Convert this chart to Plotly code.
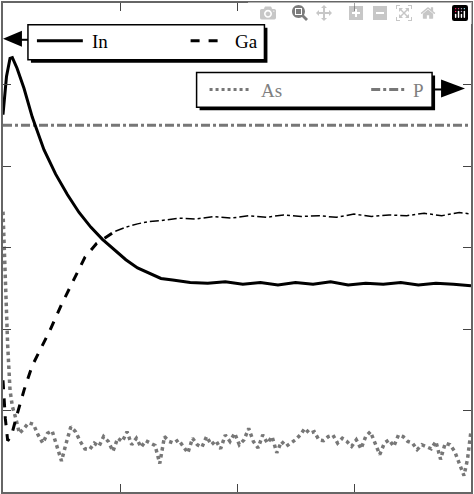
import plotly.graph_objects as go

# data (x in arbitrary time units 0..400, y 0..6)
in_x = [0, 3, 6, 8, 12, 18, 25, 35, 45, 55, 65, 75, 85, 95, 105, 115, 125, 135, 145, 160, 175, 190, 205, 220, 235, 250, 265, 280, 295, 310, 325, 340, 355, 370, 385, 400]
in_y = [4.63, 5.1, 5.32, 5.33, 5.2, 4.95, 4.6, 4.2, 3.9, 3.65, 3.43, 3.25, 3.1, 2.97, 2.85, 2.75, 2.68, 2.62, 2.6, 2.57, 2.56, 2.58, 2.55, 2.57, 2.54, 2.57, 2.55, 2.58, 2.54, 2.56, 2.55, 2.57, 2.54, 2.56, 2.55, 2.53]
ga1_x = [0, 2, 4, 7, 12, 18, 25, 32, 40, 50, 60, 70, 80, 90, 96]
ga1_y = [1.37, 0.9, 0.63, 0.68, 0.95, 1.25, 1.55, 1.75, 1.98, 2.3, 2.6, 2.88, 3.05, 3.15, 3.2]
ga2_x = [96, 105, 115, 125, 135, 150, 165, 180, 195, 210, 225, 240, 255, 270, 285, 300, 315, 330, 345, 360, 375, 390, 400]
ga2_y = [3.2, 3.25, 3.29, 3.32, 3.33, 3.36, 3.35, 3.38, 3.36, 3.39, 3.37, 3.40, 3.38, 3.39, 3.37, 3.41, 3.38, 3.40, 3.39, 3.42, 3.39, 3.43, 3.41]
as_x = [0, 2, 4, 6, 8, 11, 14, 18, 22, 26, 30, 34, 38, 42, 46, 50, 54, 58, 62, 66, 70, 74, 78, 82, 86, 90, 94, 98, 102, 106, 110, 114, 118, 122, 126, 130, 134, 138, 142, 146, 150, 154, 158, 162, 166, 170, 174, 178, 182, 186, 190, 194, 198, 202, 206, 210, 214, 218, 222, 226, 230, 234, 238, 242, 246, 250, 254, 258, 262, 266, 270, 274, 278, 282, 286, 290, 294, 298, 302, 306, 310, 314, 318, 322, 326, 330, 334, 338, 342, 346, 350, 354, 358, 362, 366, 370, 374, 378, 382, 386, 390, 394, 397, 400]
as_y = [3.44, 2.6, 1.8, 1.25, 1.05, 0.9, 0.72, 0.78, 0.85, 0.83, 0.7, 0.6, 0.72, 0.75, 0.55, 0.38, 0.6, 0.8, 0.74, 0.62, 0.53, 0.52, 0.6, 0.56, 0.68, 0.62, 0.5, 0.66, 0.62, 0.74, 0.58, 0.66, 0.55, 0.63, 0.6, 0.57, 0.35, 0.68, 0.62, 0.6, 0.64, 0.56, 0.48, 0.66, 0.58, 0.55, 0.68, 0.58, 0.63, 0.53, 0.7, 0.62, 0.72, 0.58, 0.64, 0.78, 0.62, 0.54, 0.7, 0.6, 0.68, 0.48, 0.62, 0.56, 0.6, 0.64, 0.7, 0.78, 0.72, 0.74, 0.64, 0.63, 0.68, 0.7, 0.6, 0.66, 0.62, 0.56, 0.64, 0.53, 0.68, 0.74, 0.6, 0.46, 0.6, 0.64, 0.56, 0.7, 0.68, 0.62, 0.6, 0.52, 0.58, 0.56, 0.53, 0.62, 0.4, 0.6, 0.58, 0.5, 0.36, 0.2, 0.4, 0.75]
p_x = [0, 400]
p_y = [4.5, 4.5]

def X(px): return (px - 3) * 400 / 469
def Y(py): return (492 - py) / 82

fig = go.Figure()
fig.add_trace(go.Scatter(x=as_x, y=as_y, mode='lines', line=dict(color='#777777', width=3.5, dash='dot')))
fig.add_trace(go.Scatter(x=p_x, y=p_y, mode='lines', line=dict(color='#777777', width=3, dash='dashdot')))
fig.add_trace(go.Scatter(x=ga1_x, y=ga1_y, mode='lines', line=dict(color='black', width=3, dash='dash')))
fig.add_trace(go.Scatter(x=ga2_x, y=ga2_y, mode='lines', line=dict(color='black', width=1.5, dash='dashdot')))
fig.add_trace(go.Scatter(x=in_x, y=in_y, mode='lines', line=dict(color='black', width=3)))

shapes = []
def box(x0, y0, x1, y1):
    shapes.append(dict(type='rect', x0=X(x0+3), x1=X(x1+3), y0=Y(y0+3), y1=Y(y1+3), fillcolor='black', line=dict(width=0)))
    shapes.append(dict(type='rect', x0=X(x0), x1=X(x1), y0=Y(y0), y1=Y(y1), fillcolor='white', line=dict(color='black', width=1.5)))
box(28, 22, 265, 57)
box(197, 70, 433, 105)
def seg(x0, x1, py, color, width, dash):
    shapes.append(dict(type='line', x0=X(x0), x1=X(x1), y0=Y(py), y1=Y(py), line=dict(color=color, width=width, dash=dash)))
seg(37, 83, 38, 'black', 3, 'solid')
seg(191, 225, 38, 'black', 3, 'dash')
seg(210, 252, 87, '#777777', 3, 'dot')
seg(372, 406, 87, '#777777', 3, 'dashdot')
# arrows
shapes.append(dict(type='line', x0=X(28), x1=X(18), y0=Y(37), y1=Y(37), line=dict(color='black', width=2)))
shapes.append(dict(type='path', path=f'M {X(22)},{Y(28)} L {X(3)},{Y(36)} L {X(22)},{Y(44)} Z', fillcolor='black', line=dict(width=0)))
shapes.append(dict(type='line', x0=X(433), x1=X(445), y0=Y(87), y1=Y(87), line=dict(color='black', width=2)))
shapes.append(dict(type='path', path=f'M {X(442)},{Y(77)} L {X(466)},{Y(86)} L {X(442)},{Y(95)} Z', fillcolor='black', line=dict(width=0)))

anns = [
    dict(x=X(90), y=Y(39), text='In', color='black'),
    dict(x=X(233), y=Y(39), text='Ga', color='black'),
    dict(x=X(260), y=Y(88), text='As', color='#808080'),
    dict(x=X(412), y=Y(88), text='P', color='#808080'),
]
annotations = [dict(x=a['x'], y=a['y'], text=a['text'], xref='x', yref='y', showarrow=False, xanchor='left',
                    font=dict(family='Liberation Serif', size=19, color=a['color'])) for a in anns]

fig.update_layout(width=474, height=494, margin=dict(l=3, r=2, t=1, b=2), plot_bgcolor='white', paper_bgcolor='white',
                  showlegend=False, shapes=shapes, annotations=annotations)
fig.update_xaxes(range=[0, 400], tickvals=[100, 200, 300], showticklabels=False, ticks='inside', ticklen=8,
                 showgrid=False, zeroline=False, showline=True, linecolor='#666', linewidth=2, mirror='ticks')
fig.update_yaxes(range=[0, 6], tickvals=[1, 2, 3, 4, 5], showticklabels=False, ticks='inside', ticklen=8,
                 showgrid=False, zeroline=False, showline=True, linecolor='#666', linewidth=2, mirror='ticks')
fig.write_html('out.html', post_script="document.body.style.margin='0';document.body.style.overflow='hidden';")
